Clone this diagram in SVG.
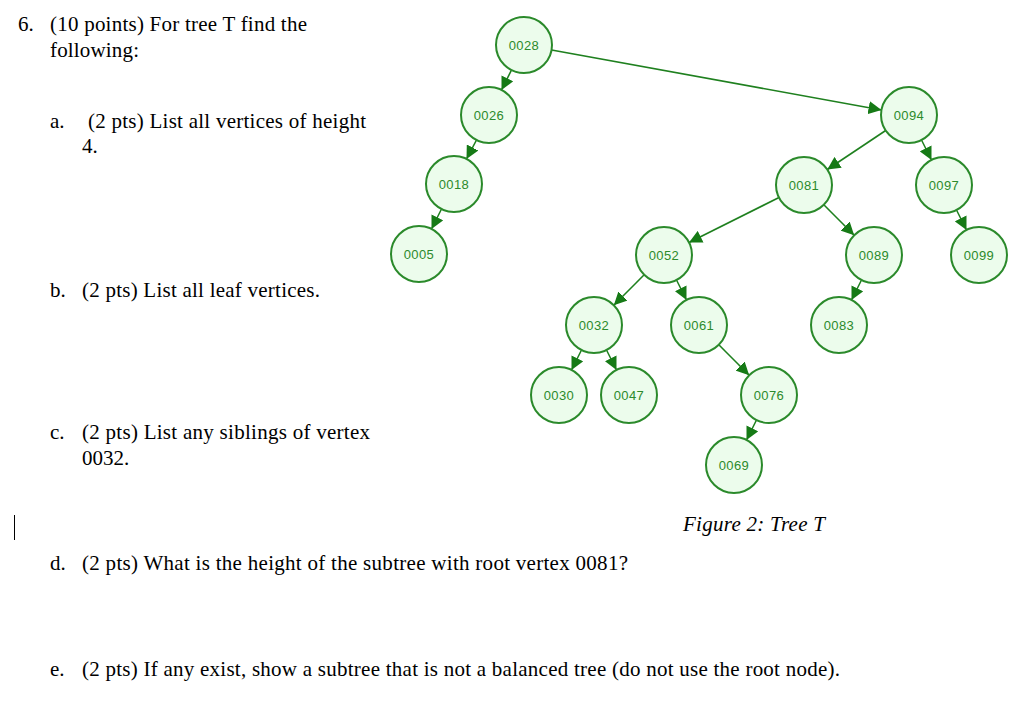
<svg xmlns="http://www.w3.org/2000/svg" width="1025" height="707" viewBox="0 0 1025 707">
<style>
.q{font-family:"Liberation Serif","Times New Roman",serif;font-size:21px;fill:#000}
.n circle{fill:#ecfcec;stroke:#2b8a2b;stroke-width:2}
.n text{font-family:"Liberation Sans",Arial,sans-serif;font-size:13px;letter-spacing:0.4px;fill:#2b8a2b;text-anchor:middle;dominant-baseline:central}
.e line{stroke:#1f801f;stroke-width:1.6;marker-end:url(#ah)}
</style>
<defs>
<marker id="ah" viewBox="0 0 10 10" refX="10" refY="5" markerWidth="13" markerHeight="13" markerUnits="userSpaceOnUse" orient="auto">
<path d="M0,0 L10,5 L0,10 z" fill="#167a16"/>
</marker>
</defs>
<rect width="1025" height="707" fill="#fff"/>
<g id="text">
<text class="q" x="18" y="31">6.</text>
<text class="q" x="50" y="31" textLength="257" lengthAdjust="spacing">(10 points) For tree T find the</text>
<text class="q" x="50" y="57" textLength="89" lengthAdjust="spacing">following:</text>
<text class="q" x="50" y="128">a.</text>
<text class="q" x="88" y="128" textLength="278" lengthAdjust="spacing">(2 pts) List all vertices of height</text>
<text class="q" x="82" y="153">4.</text>
<text class="q" x="50" y="297">b.</text>
<text class="q" x="82" y="297" textLength="238" lengthAdjust="spacing">(2 pts) List all leaf vertices.</text>
<text class="q" x="50" y="439">c.</text>
<text class="q" x="82" y="439" textLength="288" lengthAdjust="spacing">(2 pts) List any siblings of vertex</text>
<text class="q" x="82" y="465">0032.</text>
<text class="q" x="683" y="531" font-style="italic" textLength="142" lengthAdjust="spacing">Figure 2: Tree T</text>
<text class="q" x="50" y="570">d.</text>
<text class="q" x="82" y="570" textLength="546" lengthAdjust="spacing">(2 pts) What is the height of the subtree with root vertex 0081?</text>
<text class="q" x="50" y="676">e.</text>
<text class="q" x="82" y="676" textLength="758" lengthAdjust="spacing">(2 pts) If any exist, show a subtree that is not a balanced tree (do not use the root node).</text>
<line x1="14.5" y1="515" x2="14.5" y2="540" stroke="#000" stroke-width="1"/>
</g>
<g id="edges" class="e">
<line x1="511.5" y1="70" x2="501.5" y2="90"/>
<line x1="476.5" y1="140" x2="466.5" y2="159"/>
<line x1="441.5" y1="209" x2="431.5" y2="229"/>
<line x1="551.6" y1="50" x2="881.5" y2="110"/>
<line x1="885.7" y1="130.5" x2="827.3" y2="169.5"/>
<line x1="921.5" y1="140" x2="931.5" y2="160"/>
<line x1="779" y1="197.5" x2="689" y2="242.5"/>
<line x1="823.8" y1="204.8" x2="854.2" y2="235.2"/>
<line x1="956.5" y1="210" x2="966.5" y2="230"/>
<line x1="644.2" y1="274.8" x2="613.8" y2="305.2"/>
<line x1="676.5" y1="280" x2="686.5" y2="300"/>
<line x1="861.5" y1="280" x2="851.5" y2="300"/>
<line x1="581.5" y1="350" x2="571.5" y2="370"/>
<line x1="606.5" y1="350" x2="616.5" y2="370"/>
<line x1="718.8" y1="344.8" x2="749.2" y2="375.2"/>
<line x1="756.5" y1="420" x2="746.5" y2="440"/>
</g>
<g id="n0028" class="n"><circle cx="524" cy="45" r="28"/><text x="524" y="45">0028</text></g>
<g id="n0026" class="n"><circle cx="489" cy="115" r="28"/><text x="489" y="115">0026</text></g>
<g id="n0018" class="n"><circle cx="454" cy="184" r="28"/><text x="454" y="184">0018</text></g>
<g id="n0005" class="n"><circle cx="419" cy="254" r="28"/><text x="419" y="254">0005</text></g>
<g id="n0094" class="n"><circle cx="909" cy="115" r="28"/><text x="909" y="115">0094</text></g>
<g id="n0081" class="n"><circle cx="804" cy="185" r="28"/><text x="804" y="185">0081</text></g>
<g id="n0097" class="n"><circle cx="944" cy="185" r="28"/><text x="944" y="185">0097</text></g>
<g id="n0052" class="n"><circle cx="664" cy="255" r="28"/><text x="664" y="255">0052</text></g>
<g id="n0089" class="n"><circle cx="874" cy="255" r="28"/><text x="874" y="255">0089</text></g>
<g id="n0099" class="n"><circle cx="979" cy="255" r="28"/><text x="979" y="255">0099</text></g>
<g id="n0032" class="n"><circle cx="594" cy="325" r="28"/><text x="594" y="325">0032</text></g>
<g id="n0061" class="n"><circle cx="699" cy="325" r="28"/><text x="699" y="325">0061</text></g>
<g id="n0083" class="n"><circle cx="839" cy="325" r="28"/><text x="839" y="325">0083</text></g>
<g id="n0030" class="n"><circle cx="559" cy="395" r="28"/><text x="559" y="395">0030</text></g>
<g id="n0047" class="n"><circle cx="629" cy="395" r="28"/><text x="629" y="395">0047</text></g>
<g id="n0076" class="n"><circle cx="769" cy="395" r="28"/><text x="769" y="395">0076</text></g>
<g id="n0069" class="n"><circle cx="734" cy="465" r="28"/><text x="734" y="465">0069</text></g>
</svg>
